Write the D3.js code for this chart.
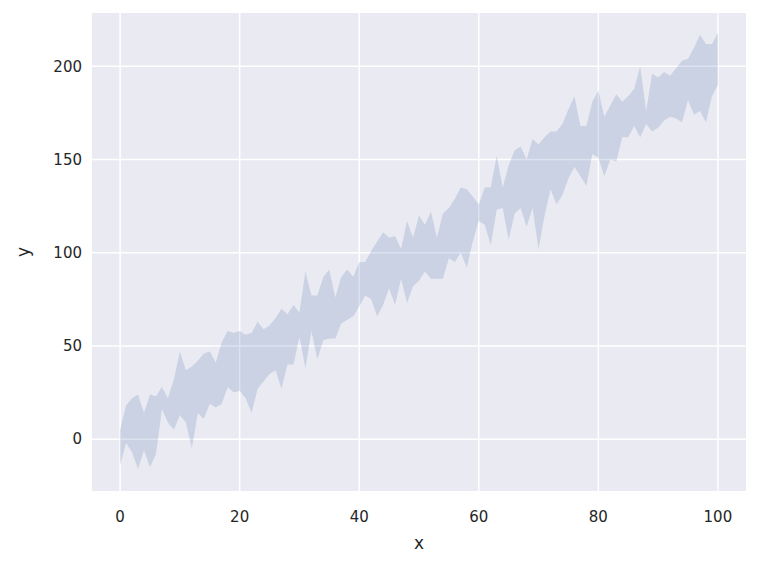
<!DOCTYPE html>
<html><head><meta charset="utf-8">
<script src="https://cdn.jsdelivr.net/npm/d3@7"></script>
<style>body{margin:0;background:#fff}text{font-family:"DejaVu Sans",sans-serif;fill:#262626}</style>
</head><body><svg id="chart" width="760" height="565"></svg>
<script>
// band bounds, x = 0..100
var upper = [5,18,22,24,14,24,23,28,22,32,47,37,39,42,46,47,41,52,58,57,58,56,57,63,59,61,65,70,67,72,68,90,77,77,87,91,76,87,91,87,95,95,101,106,111,108,109,102,117,108,120,115,122,108,121,124,129,135,134,130,126,135,135,152,135,147,155,157,150,161,158,162,165,165,169,177,184,168,168,181,187,173,179,185,181,184,188,200,176,196,194,197,195,199,203,204,210,217,212,212,218];
var lower = [-14,-2,-7,-16,-6,-15,-8,16,9,5,13,9,-5,14,11,19,17,19,28,25,26,22,14,27,31,35,37,27,40,40,55,38,58,43,53,54,54,62,64,66,71,77,75,66,72,81,72,86,73,82,85,90,86,86,86,97,95,100,92,106,117,115,104,123,124,107,121,124,114,124,102,120,134,126,131,140,146,141,136,153,151,141,150,149,162,162,168,162,169,165,167,171,173,172,170,182,174,176,170,184,190];
var xTicks = [0,20,40,60,80,100];
var yTicks = [0,50,100,150,200];

var svg = d3.select('#chart');
var plotLeft = 92, plotRight = 746, plotTop = 13, plotBottom = 491;
var x = d3.scaleLinear().domain([-4.7, 104.7]).range([plotLeft, plotRight]);
var y = d3.scaleLinear().domain([-27.8, 228.6]).range([plotBottom, plotTop]);

svg.append('rect').attr('x', plotLeft).attr('y', plotTop).attr('width', plotRight - plotLeft).attr('height', plotBottom - plotTop).attr('fill', '#eaeaf2');

//grid lines and tick labels
xTicks.forEach(function (t) {
    svg.append('line').attr('x1', x(t)).attr('x2', x(t)).attr('y1', plotTop).attr('y2', plotBottom).attr('stroke', '#fff').attr('stroke-width', 1.5);
    svg.append('text').attr('x', x(t)).attr('y', plotBottom + 31).attr('text-anchor', 'middle').attr('font-size', 15).text(t);
});
yTicks.forEach(function (t) {
    svg.append('line').attr('x1', plotLeft).attr('x2', plotRight).attr('y1', y(t)).attr('y2', y(t)).attr('stroke', '#fff').attr('stroke-width', 1.5);
    svg.append('text').attr('x', plotLeft - 10).attr('y', y(t)).attr('dy', '0.35em').attr('text-anchor', 'end').attr('font-size', 15).text(t);
});

//the band
var area = d3.area().x(function (d, i) { return x(i); }).y0(function (d, i) { return y(lower[i]); }).y1(function (d) { return y(d); });
svg.append('path').datum(upper).attr('d', area).attr('fill', '#4c72b0').attr('fill-opacity', 0.2);

svg.append('text').attr('x', (plotLeft + plotRight) / 2).attr('y', 549).attr('text-anchor', 'middle').attr('font-size', 17).text('x');
svg.append('text').attr('transform', 'translate(29,' + (plotTop + plotBottom) / 2 + ') rotate(-90)').attr('text-anchor', 'middle').attr('font-size', 17).text('y');
</script></body></html>
